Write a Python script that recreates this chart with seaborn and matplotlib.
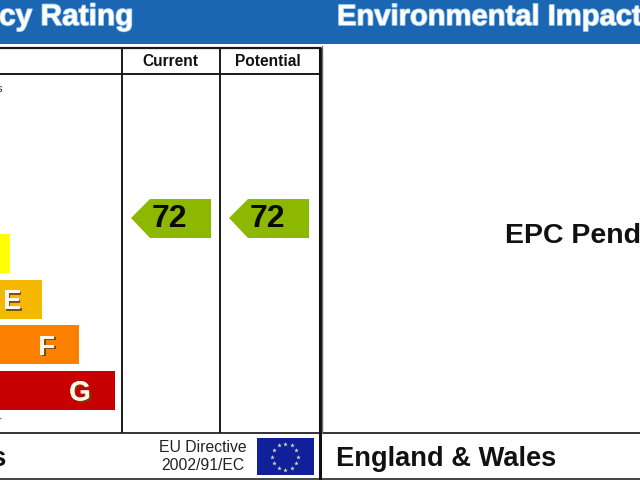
import numpy as np
import matplotlib.pyplot as plt
import matplotlib.patheffects as pe
from matplotlib.patches import Polygon, Rectangle
import seaborn as sns

# EPC chart data
bands = ['D', 'E', 'F', 'G']
band_lengths = [10, 42, 79, 115]
band_colors = ['#ffff00', '#f5b800', '#fb8000', '#c60000']
letter_offsets = [0, 30, 32, 35]
column_names = ['Current', 'Potential']
ratings = [72, 72]

sns.set_style("white")
plt.rcParams['font.family'] = ['Liberation Sans', 'DejaVu Sans']

W, H = 640, 480
fig = plt.figure(figsize=(6.4, 4.8), dpi=100, facecolor='white')

# Full page axes in pixel coordinates for the frame
ax = fig.add_axes([0, 0, 1, 1])
ax.set_xlim(0, W)
ax.set_ylim(H, 0)
ax.axis('off')

# Blue header
ax.add_patch(Rectangle((0, 0), W, 44, color='#1a66b3', lw=0))
shadow = [pe.withStroke(linewidth=1.2, foreground='#9cc8ea')]
ax.text(-1, 25, 'cy Rating', color='white', fontsize=21.5, fontweight='bold',
        va='baseline', path_effects=shadow)
ax.text(337, 25, 'Environmental Impact', color='white', fontsize=21, fontweight='bold',
        va='baseline', path_effects=shadow, clip_on=True)

# Table lines
line_color = '#1a1a1a'
ax.plot([0, 320], [48, 48], color=line_color, lw=1.6)
ax.plot([0, 320], [74, 74], color=line_color, lw=1.4)
ax.plot([0, 640], [432.5, 432.5], color='#333333', lw=1.4)
ax.plot([0, 640], [478.5, 478.5], color='#444444', lw=1.4)
ax.plot([122, 122], [48, 432], color=line_color, lw=1.4)
ax.plot([220, 220], [48, 432], color=line_color, lw=1.4)
ax.plot([319.5, 319.5], [48, 480], color='#111111', lw=2.2)
ax.plot([321.5, 321.5], [46, 433], color='#666666', lw=1.0)

# Rating arrows
col_lefts = [131, 229]
for name, value, left in zip(column_names, ratings, col_lefts):
    ax.text(left + 39, 61, name, ha='center', va='center', fontsize=11.2,
            fontweight='bold', color='#111111')
    ax.add_patch(Polygon([(left, 218), (left + 19, 199), (left + 80, 199),
                          (left + 80, 238), (left + 19, 238)],
                         closed=True, color='#8cb800', lw=0))
    ax.text(left + 38, 219, str(value), ha='center', va='center', fontsize=23,
            fontweight='bold', color='#0a0a0a')

# Bands drawn by seaborn in their own axes
bar_ax = fig.add_axes([0, 1 - 413.3 / H, 120 / W, (413.3 - 230.7) / H])
sns.barplot(x=band_lengths, y=bands, hue=bands, palette=band_colors, orient='h',
            width=0.86, saturation=1, legend=False, linewidth=0, ax=bar_ax)
bar_ax.set_xlim(0, 120)
bar_ax.axis('off')
bar_ax.patch.set_alpha(0)

letter_fx = [pe.withSimplePatchShadow(offset=(1.2, -1.2), shadow_rgbFace='#6b4a10', alpha=0.9),
             pe.Normal()]
for i, (band, length, off) in enumerate(zip(bands, band_lengths, letter_offsets)):
    if band == 'D':
        continue
    bar_ax.text(length - off, i, band, ha='center', va='center_baseline',
                fontsize=20, fontweight='bold', color='#fff8ea', path_effects=letter_fx)

# Bottom strip
ax.text(-10, 466, 's', fontsize=20, fontweight='bold', color='#111111', va='baseline')
ax.text(203, 447, 'EU Directive', ha='center', va='center', fontsize=11.3, color='#222222')
ax.text(203, 466, '2002/91/EC', ha='center', va='center', fontsize=11.3, color='#222222')
ax.text(336, 466, 'England & Wales', fontsize=19.6, fontweight='bold', color='#111111',
        va='baseline')

# EU flag
ax.add_patch(Rectangle((257, 438), 56.5, 37, color='#10209a', lw=0))
angles = np.deg2rad(np.arange(0, 360, 30))
sns.scatterplot(x=285 + 13 * np.cos(angles), y=456.5 + 13 * np.sin(angles), marker='*',
                s=12, color='#d8dcc0', linewidth=0, ax=ax, legend=False, zorder=5)
ax.set_xlim(0, W)
ax.set_ylim(H, 0)

# Right panel
ax.text(505, 243, 'EPC Pending', fontsize=20.5, fontweight='bold', color='#111111',
        va='baseline', clip_on=True)

# Cut-off fragments of the small scale notes
ax.text(-3, 92, 's', fontsize=8, color='#333333')
ax.text(-3, 424, 'r', fontsize=8, color='#333333')

fig.savefig('out.png', dpi=100)
